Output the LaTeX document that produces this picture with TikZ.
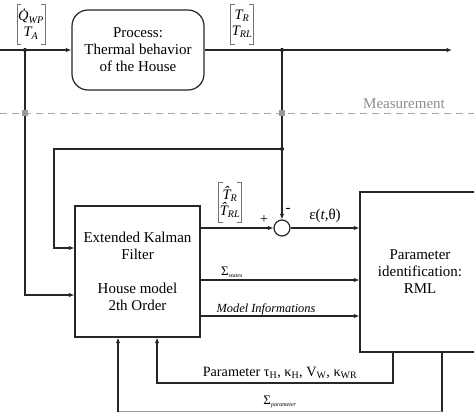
\documentclass[tikz,border=0pt]{standalone}
\usepackage{fontspec}
\setmainfont{Liberation Serif}
\usetikzlibrary{arrows.meta}
\begin{document}
\begin{tikzpicture}[x=1pt,y=-1pt,
  ln/.style={draw=black!85,line width=1.2pt},
  arr/.style={ln,-{Latex[length=5.5pt,width=4.5pt]}},
  blk/.style={draw=black!85,line width=1.2pt,align=center,font=\fontsize{15}{17}\selectfont},
  vec/.style={align=center,font=\fontsize{14.5}{16}\selectfont\itshape,inner sep=1pt,minimum height=40pt},
  brk/.style={draw=black!55,line width=0.6pt},
  dotc/.style={circle,fill=black,inner sep=0pt,minimum size=4pt},
  sq/.style={rectangle,fill=black!40,inner sep=0pt,minimum size=6pt},
  lab/.style={font=\fontsize{15}{17}\selectfont,inner sep=0pt},
  ilab/.style={font=\fontsize{12.4}{14}\selectfont\itshape,inner sep=0pt}]
\useasboundingbox (0,0) rectangle (474,413);
% dashed measurement line
\coordinate (m0) at (0,113);
\coordinate (m1) at (474,113);
\draw[draw=black!35,line width=1pt,dash pattern=on 7pt off 5pt] (m0) -- (m1);
\node[lab,text=black!45] (meas) at (404,104) {Measurement};
% process
\node[blk,rounded corners=16pt,minimum width=132pt,minimum height=80pt] (proc) at (138,50) {Process:\\Thermal behavior\\of the House};
\coordinate (in) at (0,50);
\coordinate (out) at (452,50);
\node[dotc] (d1) at (25,50) {};
\node[dotc] (d2) at (282,50) {};
\node[dotc] (d3) at (282,149) {};
\draw[arr] (in) -- (proc.west);
\draw[arr] (proc.east) -- (out);
% EKF
\node[blk,minimum width=125pt,minimum height=131pt] (ekf) at (137.5,271.5) {Extended Kalman\\Filter\\[17pt]House model\\2th Order};
% RML
\node[blk,minimum width=120pt,minimum height=160pt] (rml) at (420,272) {Parameter\\identification:\\RML};
% summing junction
\node[circle,draw=black!85,line width=1.2pt,minimum size=16pt,inner sep=0pt] (sum) at (282,228) {};
% connections
\coordinate (c1) at (25,295);
\draw[arr] (d1) -- (c1) -- (ekf.west |- c1);
\coordinate (c2) at (54,149);
\coordinate (c3) at (54,248);
\draw[arr] (d3) -- (c2) -- (c3) -- (ekf.west |- c3);
\draw[arr] (d2) -- (sum.north);
\draw[arr] (ekf.east |- sum) -- (sum.west);
\draw[arr] (sum.east) -- (rml.west |- sum);
\coordinate (c4) at (200,280);
\draw[arr] (ekf.east |- c4) -- (rml.west |- c4);
\coordinate (c5) at (200,316);
\draw[arr] (ekf.east |- c5) -- (rml.west |- c5);
\coordinate (c6) at (393,383);
\coordinate (c7) at (157,383);
\draw[arr] (rml.south -| c6) -- (c6) -- (c7) -- (ekf.south -| c7);
\coordinate (c8) at (442,411.5);
\coordinate (c9) at (118,411.5);
\draw[ln] (rml.south -| c8) -- (c8);
\draw[draw=black!40,line width=1.2pt] (c8) -- (c9);
\draw[arr] (c9) -- (ekf.south -| c9);
% gray squares on measurement line
\node[sq] (s1) at (25,113) {};
\node[sq] (s2) at (282,113) {};
% vector labels
\node[vec] (vin) at (31,24) {\.{Q}\textsubscript{WP}\\T\textsubscript{A}};
\draw[brk] ([xshift=4pt]vin.north west) -- (vin.north west) -- (vin.south west) -- ([xshift=4pt]vin.south west);
\draw[brk] ([xshift=-4pt]vin.north east) -- (vin.north east) -- (vin.south east) -- ([xshift=-4pt]vin.south east);
\node[vec] (vout) at (242,24) {T\textsubscript{R}\\T\textsubscript{RL}};
\draw[brk] ([xshift=4pt]vout.north west) -- (vout.north west) -- (vout.south west) -- ([xshift=4pt]vout.south west);
\draw[brk] ([xshift=-4pt]vout.north east) -- (vout.north east) -- (vout.south east) -- ([xshift=-4pt]vout.south east);
\node[vec] (vhat) at (230,202) {\^{T}\textsubscript{R}\\\^{T}\textsubscript{RL}};
\draw[brk] ([xshift=4pt]vhat.north west) -- (vhat.north west) -- (vhat.south west) -- ([xshift=4pt]vhat.south west);
\draw[brk] ([xshift=-4pt]vhat.north east) -- (vhat.north east) -- (vhat.south east) -- ([xshift=-4pt]vhat.south east);
% other labels
\node[lab,font=\fontsize{14}{15}\selectfont] (plus) at (264,220) {+};
\node[lab] (minus) at (288,210) {-};
\node[lab] (eps) at (325,216) {ε(\textit{t},θ)};
\node[lab,font=\fontsize{13}{15}\selectfont] (sst) at (232,272) {Σ\textsubscript{\textit{\fontsize{6}{7}\selectfont states}}};
\node[ilab] (mi) at (266,309) {Model Informations};
\node[lab,font=\fontsize{14.2}{16}\selectfont] (par) at (280,373) {Parameter τ\textsubscript{H}, κ\textsubscript{H}, V\textsubscript{W}, κ\textsubscript{WR}};
\node[lab,font=\fontsize{13}{15}\selectfont] (spar) at (280,402) {Σ\textsubscript{\textit{\fontsize{6}{7}\selectfont parameter}}};
\end{tikzpicture}
\end{document}
